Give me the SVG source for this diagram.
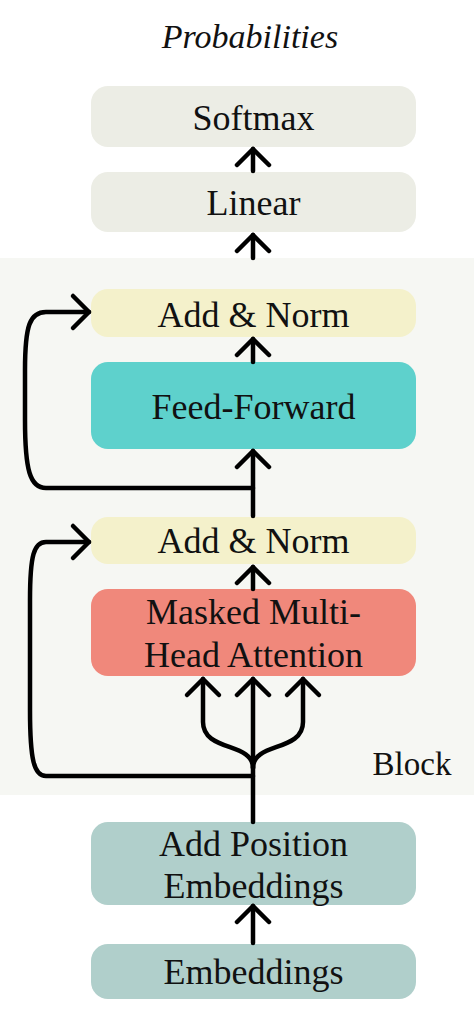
<svg xmlns="http://www.w3.org/2000/svg" width="474" height="1021" viewBox="0 0 474 1021">
<style>
.t{font-family:"Liberation Serif","DejaVu Serif",serif;font-size:36px;fill:#111;text-anchor:middle}
.c{fill:none;stroke:#000;stroke-width:4.5;stroke-linecap:round;stroke-linejoin:round}
</style>
<defs>
<marker id="ah" markerUnits="userSpaceOnUse" orient="auto" refX="0" refY="0" markerWidth="40" markerHeight="40" overflow="visible">
<path d="M-16,-16 L0,0 L-16,16" fill="none" stroke="#000" stroke-width="4.5" stroke-linecap="round" stroke-linejoin="round"/>
</marker>
</defs>
<rect width="474" height="1021" fill="#ffffff"/>
<g id="block">
<rect x="0" y="258" width="474" height="537" fill="#f6f7f3"/>
<text class="t" x="412" y="775" style="font-size:33px">Block</text>
</g>
<text id="probabilities" class="t" x="250" y="48" style="font-style:italic;font-size:34px">Probabilities</text>
<g id="softmax"><rect x="91" y="86" width="325" height="61" rx="17" fill="#ecede5"/><text class="t" x="253.5" y="130">Softmax</text></g>
<g id="linear"><rect x="91" y="172" width="325" height="60" rx="17" fill="#ecede5"/><text class="t" x="253.5" y="215">Linear</text></g>
<g id="addnorm1"><rect x="91" y="289" width="325" height="48" rx="17" fill="#f4f1cb"/><text class="t" x="253.5" y="327">Add &amp; Norm</text></g>
<g id="feedforward"><rect x="91" y="362" width="325" height="87" rx="17" fill="#5ed1cc"/><text class="t" x="253.5" y="419">Feed-Forward</text></g>
<g id="addnorm2"><rect x="91" y="517" width="325" height="47" rx="17" fill="#f4f1cb"/><text class="t" x="253.5" y="553">Add &amp; Norm</text></g>
<g id="mha"><rect x="91" y="589" width="325" height="87" rx="17" fill="#f0887b"/><text class="t" x="253.5" y="624">Masked Multi-</text><text class="t" x="253.5" y="667">Head Attention</text></g>
<g id="addpos"><rect x="91" y="822" width="325" height="83" rx="17" fill="#b0cfcb"/><text class="t" x="253.5" y="856">Add Position</text><text class="t" x="253.5" y="898">Embeddings</text></g>
<g id="embeddings"><rect x="91" y="944" width="325" height="55" rx="17" fill="#b0cfcb"/><text class="t" x="253.5" y="984">Embeddings</text></g>
<g id="connectors">
<path class="c" d="M253,171 L253,149" marker-end="url(#ah)"/>
<path class="c" d="M253,258 L253,235" marker-end="url(#ah)"/>
<path class="c" d="M253,362 L253,339" marker-end="url(#ah)"/>
<path class="c" d="M253,516 L253,451" marker-end="url(#ah)"/>
<path class="c" d="M253,488 L46,488 C30,488 25,470 25,420 L25,370 C25,325 30,312 46,312 L89,312" marker-end="url(#ah)"/>
<path class="c" d="M253,589 L253,567" marker-end="url(#ah)"/>
<path class="c" d="M253,822 L253,679" marker-end="url(#ah)"/>
<path class="c" d="M253,768 C253,742 203,752 203,722 L203,679" marker-end="url(#ah)"/>
<path class="c" d="M253,768 C253,742 303,752 303,722 L303,679" marker-end="url(#ah)"/>
<path class="c" d="M253,776 L46,776 C34,776 30,760 30,710 L30,600 C30,555 34,542 46,542 L89,542" marker-end="url(#ah)"/>
<path class="c" d="M253,943 L253,906" marker-end="url(#ah)"/>
</g>
</svg>
